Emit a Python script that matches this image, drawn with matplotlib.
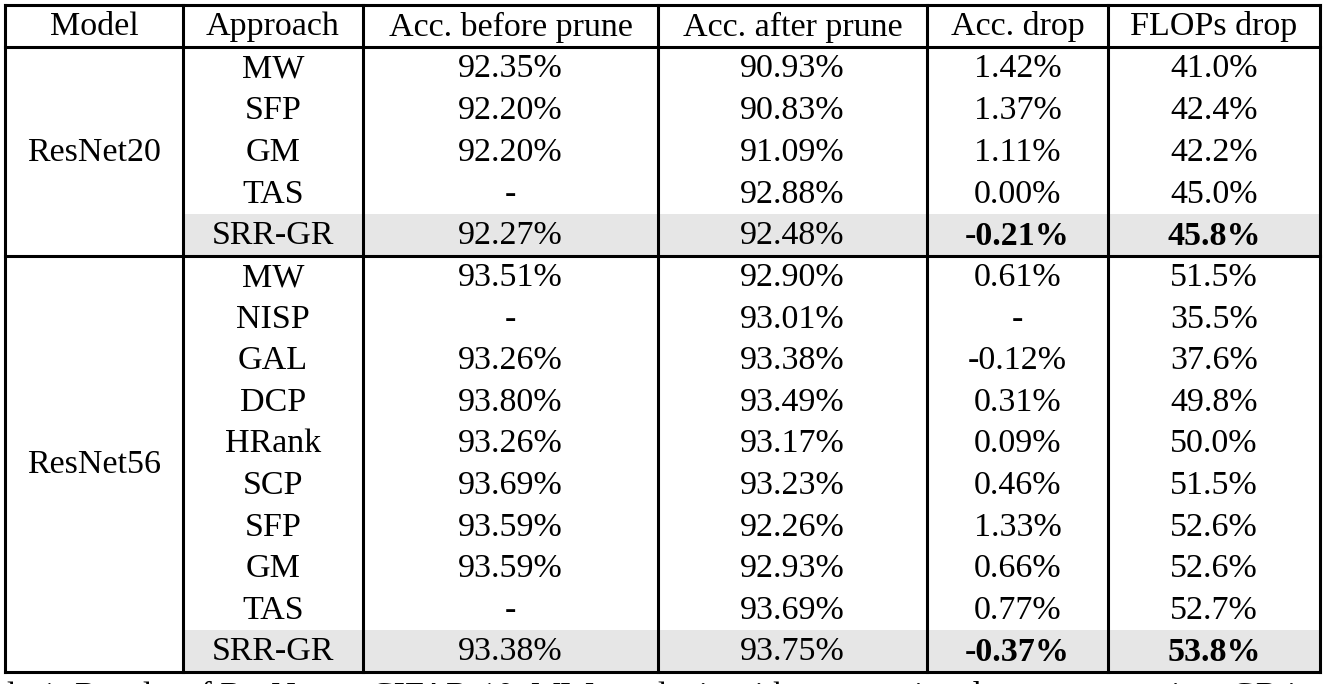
import matplotlib
matplotlib.use("Agg")
import matplotlib.pyplot as plt

headers = ["Model", "Approach", "Acc. before prune", "Acc. after prune", "Acc. drop", "FLOPs drop"]
models = ["ResNet20", "ResNet56"]
approaches20 = ["MW", "SFP", "GM", "TAS", "SRR-GR"]
before20 = ["92.35%", "92.20%", "92.20%", "-", "92.27%"]
after20 = ["90.93%", "90.83%", "91.09%", "92.88%", "92.48%"]
drop20 = ["1.42%", "1.37%", "1.11%", "0.00%", "-0.21%"]
flops20 = ["41.0%", "42.4%", "42.2%", "45.0%", "45.8%"]
approaches56 = ["MW", "NISP", "GAL", "DCP", "HRank", "SCP", "SFP", "GM", "TAS", "SRR-GR"]
before56 = ["93.51%", "-", "93.26%", "93.80%", "93.26%", "93.69%", "93.59%", "93.59%", "-", "93.38%"]
after56 = ["92.90%", "93.01%", "93.38%", "93.49%", "93.17%", "93.23%", "92.26%", "92.93%", "93.69%", "93.75%"]
drop56 = ["0.61%", "-", "-0.12%", "0.31%", "0.09%", "0.46%", "1.33%", "0.66%", "0.77%", "-0.37%"]
flops56 = ["51.5%", "35.5%", "37.6%", "49.8%", "50.0%", "51.5%", "52.6%", "52.6%", "52.7%", "53.8%"]
caption = "ble 1: Results of ResNet on CIFAR-10. MW results is with progressive data augmentation. GR is used and bold"

W, H = 1325, 684
fig = plt.figure(figsize=(W/100, H/100), dpi=100)
ax = fig.add_axes([0, 0, 1, 1])
ax.set_xlim(0, W); ax.set_ylim(H, 0); ax.axis("off")

cols = [5, 183, 363, 658, 927, 1108, 1320]
top, hb, mid, bot = 5, 47, 256, 672
fs = 24.5
font = "Liberation Serif"
lw = 2.2

def cx(i):
    return (cols[i] + cols[i+1]) / 2

for i, h in enumerate(headers):
    ax.text(cx(i), (top+hb)/2 + 1, h, ha="center", va="center", fontsize=fs, family=font)

blocks = [(models[0], approaches20, before20, after20, drop20, flops20, hb, mid),
          (models[1], approaches56, before56, after56, drop56, flops56, mid, bot)]
for model, ap, b, a, d, f, y0, y1 in blocks:
    n = len(ap)
    rh = (y1 - y0) / n
    ax.add_patch(plt.Rectangle((cols[1], y1 - rh), cols[6]-cols[1], rh, color="#e6e6e6", lw=0, zorder=0))
    ax.text(cx(0), (y0+y1)/2 + 1, model, ha="center", va="center", fontsize=fs, family=font)
    for r in range(n):
        yc = y0 + rh*(r+0.5) + 1
        last = r == n-1
        vals = [ap[r], b[r], a[r], d[r], f[r]]
        for j, v in enumerate(vals):
            bold = last and j >= 3
            ax.text(cx(j+1), yc, v, ha="center", va="center", fontsize=fs, family=font,
                    fontweight="bold" if bold else "normal")

for y in [top, hb, mid, bot]:
    ax.plot([cols[0], cols[6]], [y, y], color="black", lw=lw, solid_capstyle="projecting")
for x in cols:
    ax.plot([x, x], [top, bot], color="black", lw=lw, solid_capstyle="projecting")

ax.text(-10, 696, caption, ha="left", va="center", fontsize=fs, family=font, clip_on=True)

fig.savefig("out.png", dpi=100)
